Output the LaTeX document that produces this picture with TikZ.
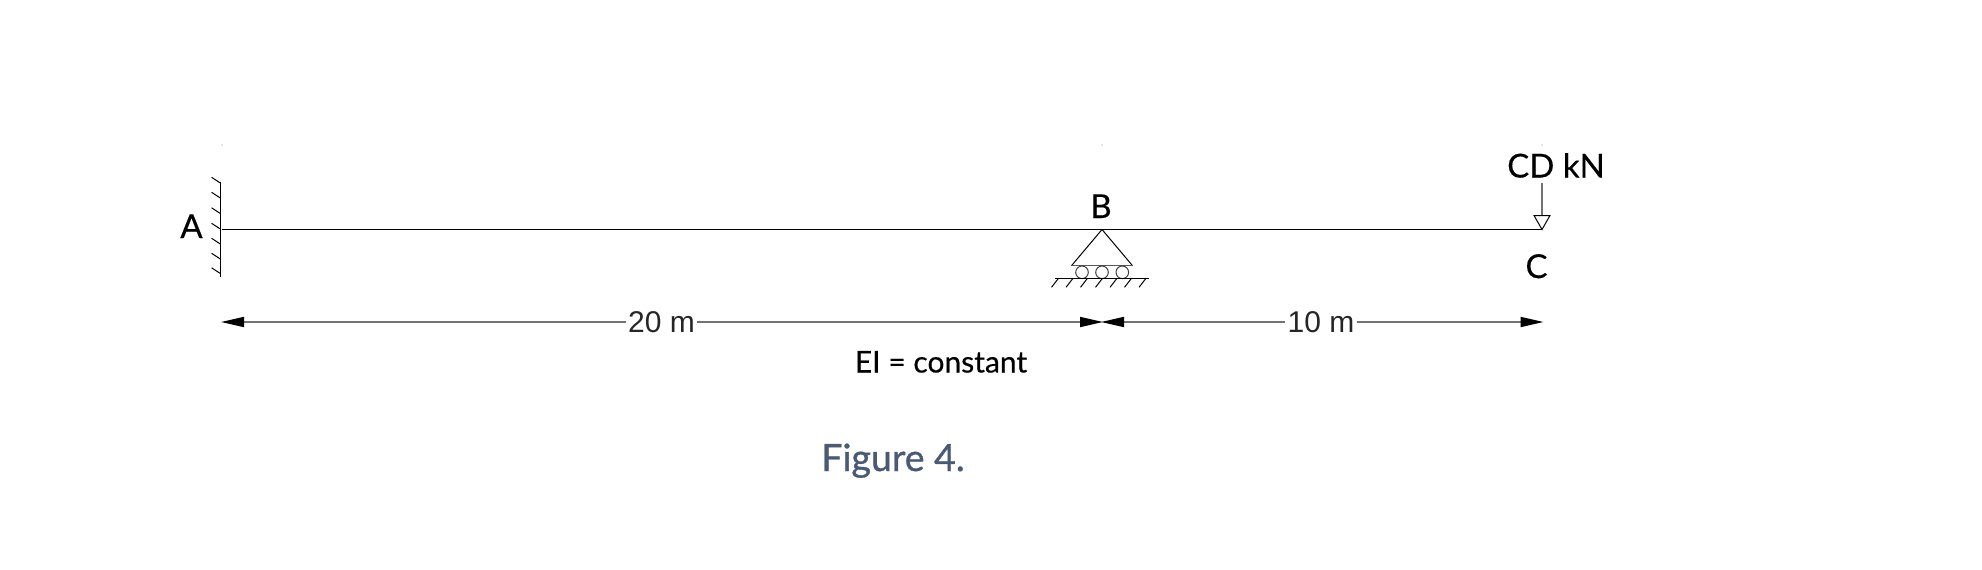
\documentclass[tikz,border=0pt]{standalone}
\usepackage{fontspec}
\setmainfont{Lato}[RawFeature={embolden=0.35}]
\newfontfamily\figfont{Lato}[RawFeature={embolden=0.9}]
\newfontfamily\dimfont{Liberation Sans}
\usetikzlibrary{arrows.meta}
\definecolor{figblue}{HTML}{4A5A75}
\tikzset{
  line/.style={line width=1.2pt,black},
  thin line/.style={line width=1pt,black},
  dimline/.style={line width=1.7pt,black!55},
  dimtip/.style={-{Triangle[black,length=23pt,width=10pt]},shorten >=-1pt},
  lab/.style={inner sep=0pt,anchor=base,font=\fontsize{30}{30}\selectfont,text=black},
  biglab/.style={lab,font=\fontsize{33}{33}\selectfont},
  dimlab/.style={inner sep=0pt,anchor=base,font=\dimfont\fontsize{30}{30}\selectfont,text=black!85},
  speck/.style={fill=black!45,draw=none,inner sep=0pt,minimum size=1.2pt,shape=circle}
}
\begin{document}
\begin{tikzpicture}[x=1pt,y=-1pt]
\useasboundingbox (0,0) rectangle (1982,570);
\node[speck] (s1) at (222,145) {};
\node[speck] (s2) at (1102,145) {};
\node[speck] (s3) at (1542,145) {};
% named points
\coordinate (A) at (222,229.5);
\coordinate (B) at (1102,229.5);
\coordinate (C) at (1542,229.5);
\coordinate (dA) at (222,322);
\coordinate (dB) at (1102,322);
\coordinate (dC) at (1542.5,322);
% beam
\draw[line] (A) -- (C);
% wall
\draw[line] (220.3,182) -- (220.3,277);
\foreach \y in {183,198,213.5,229,244,259,273.5}
  \draw[thin line] (220.3,\y) -- ++(-8.7,-5.7);
% roller support
\draw[thin line] (B) -- (1071.5,265.7);
\draw[thin line] (B) -- (1132.5,265.7);
\draw[line width=1.5pt,black!65] (1071.5,265.7) -- (1132.5,265.7);
\foreach \x in {1082,1102,1122.3}
  \draw[thin line,black!75] (\x,272.3) circle (6.3);
\draw[line] (1055,278.3) -- (1149,278.3);
\foreach \x in {1058.5,1073,1087.5,1102.5,1117,1131.5,1146}
  \draw[thin line] (\x,278.3) -- ++(-7,9);
% load
\node[biglab] (load) at (1556,177.5) {CD kN};
\draw[dimline,line width=1.4pt] (1542,183) -- (1542,215.5);
\draw[thin line,fill=white] (1534,215.5) -- (1550,215.5) -- (C) -- cycle;
% labels
\node[biglab] (la) at (191.5,238) {A};
\node[biglab] (lb) at (1101,218) {B};
\node[biglab] (lc) at (1536.5,278) {C};
% dimensions
\node[dimlab] (d20) at (661.5,332.5) {20 m};
\node[dimlab] (d10) at (1321,332.5) {10 m};
\draw[dimline,dimtip] (d20.west |- dA) ++(-2,0) -- (dA);
\draw[dimline,dimtip] (d20.east |- dA) ++(2,0) -- (dB);
\draw[dimline,dimtip] (d10.west |- dA) ++(-2,0) -- (dB);
\draw[dimline,dimtip] (d10.east |- dA) ++(2,0) -- (dC);
% notes
\node[lab] (ei) at (941,372.5) {EI = constant};
\node[inner sep=0pt,anchor=base,font=\figfont\fontsize{37.5}{38}\selectfont,text=figblue] (fig) at (893,471) {Figure 4.};
\end{tikzpicture}
\end{document}
